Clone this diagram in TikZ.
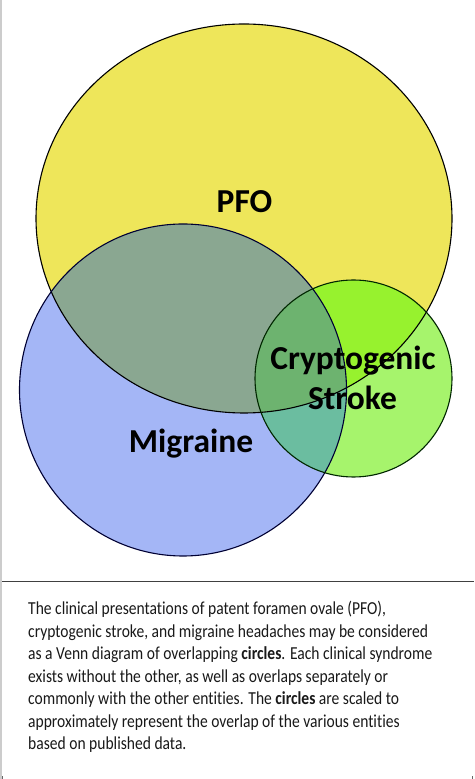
\documentclass[tikz,border=0pt]{standalone}
\usepackage{fontspec}
\setmainfont{Carlito}
\newfontfamily\capfont{Carlito}[FakeStretch=0.85, Ligatures=CommonOff]
\definecolor{pfoC}{HTML}{EEE65A}
\definecolor{migC}{HTML}{A4B6F6}
\definecolor{strC}{HTML}{A6F46C}
\definecolor{pmC}{HTML}{8AA791}
\definecolor{psC}{HTML}{97F22E}
\definecolor{msC}{HTML}{6BBDA0}
\definecolor{pmsC}{HTML}{6DB36F}
\newcommand{\pfoShape}{(244,560.5) ellipse [x radius=208, y radius=194.5]}
\newcommand{\migShape}{(183,389) ellipse [x radius=163.5, y radius=166]}
\newcommand{\strShape}{(353.5,400.5) circle [radius=98.5]}
\begin{document}
\begin{tikzpicture}[x=1pt,y=1pt,
  lbl/.style={font=\fontsize{33.5}{40}\selectfont\bfseries, inner sep=0pt, anchor=base},
  captext/.style={font=\capfont\fontsize{18.3}{22.5}\selectfont, inner sep=0pt, anchor=base west, text=black!90}]
\useasboundingbox (0,0) rectangle (474,779);
\fill[white] (0,0) rectangle (474,779);
\fill[pfoC] \pfoShape;
\fill[migC] \migShape;
\fill[strC] \strShape;
\begin{scope}
  \clip \pfoShape;
  \fill[pmC] \migShape;
  \fill[psC] \strShape;
\end{scope}
\begin{scope}
  \clip \migShape;
  \fill[msC] \strShape;
\end{scope}
\begin{scope}
  \clip \pfoShape;
  \clip \migShape;
  \fill[pmsC] \strShape;
\end{scope}
\draw[line width=1.1pt, black] \pfoShape;
\draw[line width=1.1pt, black!80!blue] \migShape;
\draw[line width=1.1pt, black!85!green] \strShape;
\node[lbl] (pfo) at (244.5,566) {PFO};
\node[lbl] (mig) at (191,326) {Migraine};
\node[lbl] (cry) at (353,409) {Cryptogenic};
\node[lbl] (stk) at (352.5,369) {Stroke};
% caption frame
\draw[line width=1pt, black!75] (0,197) -- (474,197);
\draw[line width=2pt, black!20] (1,0) -- (1,779);
\draw[line width=1pt, black!60] (2,0) -- (2,3);
\draw[line width=1pt, black!60] (472.5,0) -- (472.5,3);
\node[captext] (c1) at (28,164) {The clinical presentations of patent foramen ovale (PFO),};
\node[captext] (c2) at (28,141.5) {cryptogenic stroke, and migraine headaches may be considered};
\node[captext] (c3) at (28,119) {as a Venn diagram of overlapping \textbf{circles}. Each clinical syndrome};
\node[captext] (c4) at (28,96.5) {exists without the other, as well as overlaps separately or};
\node[captext] (c5) at (28,74) {commonly with the other entities. The \textbf{circles} are scaled to};
\node[captext] (c6) at (28,51.5) {approximately represent the overlap of the various entities};
\node[captext] (c7) at (28,29) {based on published data.};
\end{tikzpicture}
\end{document}
